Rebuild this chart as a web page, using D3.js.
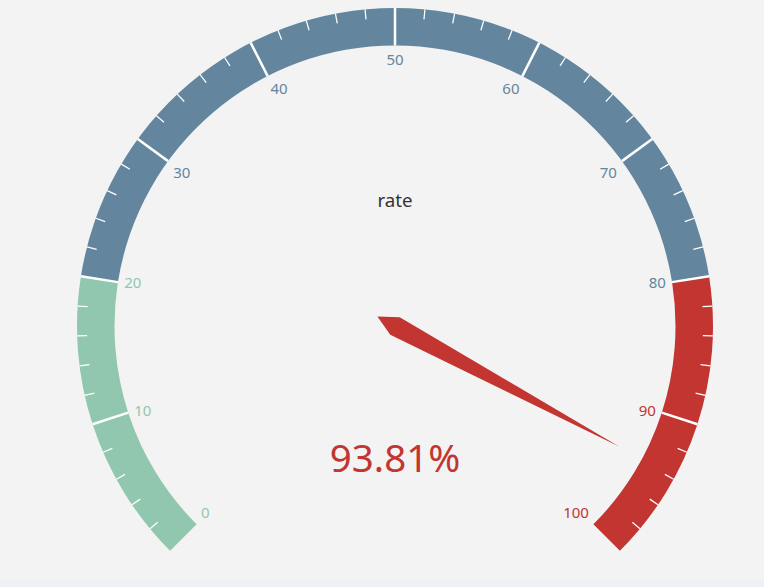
<!DOCTYPE html>
<html>
<head>
<meta charset="utf-8">
<script src="https://cdn.jsdelivr.net/npm/d3@7"></script>
<style>
  html, body { margin: 0; padding: 0; background: #f3f3f3; }
  svg { display: block; }
</style>
</head>
<body>
<div id="wrapper"></div>
<script>
// gauge data
const seriesName = "rate";
const gaugeValue = 93.81;
const bandStops = [0, 20, 80, 100];
const bandColors = ["#91c7ae", "#63869e", "#c23531"];
const labelValues = [0, 10, 20, 30, 40, 50, 60, 70, 80, 90, 100];
const ticksPerSplit = 5;

function drawGauge() {
    const width = 764;
    const height = 587;

    const dims = {
        cx: 395,
        cy: 326,
        radius: 318,
        scale: 1.25,
    };
    const s = dims.scale;
    const bandWidth = 30 * s;

    const svg = d3.select("#wrapper")
        .append("svg")
            .attr("width", width)
            .attr("height", height);

    svg.append("rect")
        .attr("width", width)
        .attr("height", height)
        .attr("fill", "#f3f3f3");

    // thin light strip at the bottom of the shot
    svg.append("rect")
        .attr("x", 0)
        .attr("y", 581)
        .attr("width", width)
        .attr("height", height - 581)
        .attr("fill", "#edf1f7");

    const g = svg.append("g")
        .attr("transform", `translate(${dims.cx},${dims.cy})`);

    // value -> angle (d3 convention, radians from 12 o'clock, clockwise)
    const angle = d3.scaleLinear()
        .domain([bandStops[0], bandStops[bandStops.length - 1]])
        .range([-135 * Math.PI / 180, 135 * Math.PI / 180]);

    const colorFor = v => {
        for (let i = 0; i < bandColors.length; i++) {
            if (v <= bandStops[i + 1]) return bandColors[i];
        }
        return bandColors[bandColors.length - 1];
    };

    const pt = (a, r) => [r * Math.sin(a), -r * Math.cos(a)];

    const arc = d3.arc()
        .innerRadius(dims.radius - bandWidth)
        .outerRadius(dims.radius);

    g.selectAll("path.band")
        .data(bandColors)
        .join("path")
            .attr("class", "band")
            .attr("d", (c, i) => arc({
                startAngle: angle(bandStops[i]),
                endAngle: angle(bandStops[i + 1]),
            }))
            .attr("fill", c => c);

    // minor ticks
    const tickValues = [];
    for (let i = 0; i < labelValues.length - 1; i++) {
        const step = (labelValues[i + 1] - labelValues[i]) / ticksPerSplit;
        for (let k = 1; k < ticksPerSplit; k++) tickValues.push(labelValues[i] + step * k);
    }

    g.selectAll("line.tick")
        .data(tickValues)
        .join("line")
            .attr("class", "tick")
            .attr("x1", v => pt(angle(v), dims.radius)[0])
            .attr("y1", v => pt(angle(v), dims.radius)[1])
            .attr("x2", v => pt(angle(v), dims.radius - 8 * s)[0])
            .attr("y2", v => pt(angle(v), dims.radius - 8 * s)[1])
            .attr("stroke", "#fff")
            .attr("stroke-width", 1 * s);

    // split lines (skip the two ends)
    g.selectAll("line.split")
        .data(labelValues.slice(1, -1))
        .join("line")
            .attr("class", "split")
            .attr("x1", v => pt(angle(v), dims.radius)[0])
            .attr("y1", v => pt(angle(v), dims.radius)[1])
            .attr("x2", v => pt(angle(v), dims.radius - bandWidth)[0])
            .attr("y2", v => pt(angle(v), dims.radius - bandWidth)[1])
            .attr("stroke", "#fff")
            .attr("stroke-width", 2 * s);

    // axis labels, aligned like echarts does
    const labelR = dims.radius - bandWidth - 5 * s;
    g.selectAll("text.label")
        .data(labelValues)
        .join("text")
            .attr("class", "label")
            .attr("x", v => pt(angle(v), labelR)[0])
            .attr("y", v => pt(angle(v), labelR)[1])
            .attr("text-anchor", v => {
                const ux = Math.sin(angle(v));
                return ux < -0.4 ? "start" : (ux > 0.4 ? "end" : "middle");
            })
            .attr("dy", v => {
                const uy = Math.cos(angle(v));
                return uy > 0.4 ? "0.85em" : (uy < -0.4 ? "-0.15em" : "0.35em");
            })
            .attr("fill", v => colorFor(v))
            .style("font-family", "'Noto Sans', 'Open Sans', sans-serif")
            .style("font-size", "15px")
            .text(d => d);

    // title
    g.append("text")
        .attr("x", 0)
        .attr("y", -0.4 * dims.radius + 2)
        .attr("dy", "0.35em")
        .attr("text-anchor", "middle")
        .attr("fill", "#333")
        .style("font-family", "'Noto Sans', 'Open Sans', sans-serif")
        .style("font-size", `${15 * s}px`)
        .text(seriesName);

    // pointer
    const pw = 8 * s;
    const pLen = 0.8 * dims.radius;
    const pa = angle(gaugeValue);
    const tail = pt(pa, -2 * pw);
    const side1 = pt(pa - Math.PI / 2, pw);
    const side2 = pt(pa + Math.PI / 2, pw);
    const tip = pt(pa, pLen);

    g.append("path")
        .attr("d", d3.line()([tail, side1, tip, side2, tail]) + "Z")
        .attr("fill", colorFor(gaugeValue));

    // detail
    g.append("text")
        .attr("x", 0)
        .attr("y", 0.4 * dims.radius + 5)
        .attr("dy", "0.35em")
        .attr("text-anchor", "middle")
        .attr("fill", colorFor(gaugeValue))
        .style("font-family", "'Noto Sans', 'Open Sans', sans-serif")
        .style("font-size", `${30 * s + 1}px`)
        .text(`${gaugeValue}%`);
}

drawGauge();
</script>
</body>
</html>
